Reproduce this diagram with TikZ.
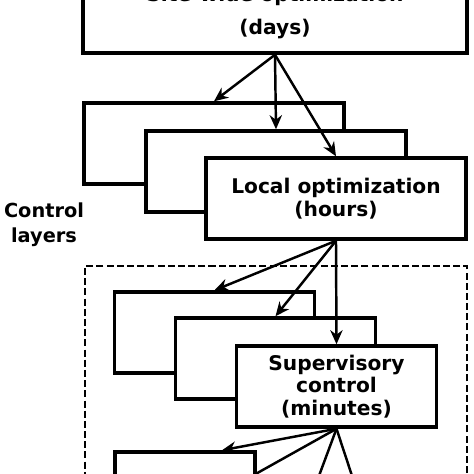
\documentclass[tikz,border=0pt]{standalone}
\usepackage{fontspec}
\setmainfont{DejaVu Sans}
\usetikzlibrary{arrows.meta}

\begin{document}
\begin{tikzpicture}[x=0.02cm,y=-0.02cm,->,>={Stealth[length=8pt,width=7pt]},line width=1.4pt]
    \tikzstyle{block}=[rectangle,draw,fill=white,line width=2pt,minimum width=5.2cm,minimum height=1.62cm,inner sep=0pt,align=center,font=\fontsize{11.5}{13}\selectfont\bfseries]
    \tikzstyle{top block}=[block,minimum width=7.68cm];
    \tikzstyle{mid block}=[block,minimum width=4cm];
    \tikzstyle{low block}=[block,minimum width=2.8cm];
    \tikzstyle{group}=[rectangle,draw,dash pattern=on 4pt off 1.8pt,line width=1.5pt,minimum width=7.64cm,minimum height=5.88cm]
    \tikzstyle{annot}=[align=center,font=\fontsize{11}{14}\selectfont\bfseries]

    \useasboundingbox (0,0) rectangle (474,474);

    % The dashed group round the lower layers
    \node[group] (grp) at (276,413) {};

    % Draw the top layer
    \node[top block] (global) at (275,12.5) {Site-wide optimization\\[6pt](days)};

    % Draw the local optimization layer, back to front
    \node[block] (L-1) at (214,143.5) {};
    \node[block] (L-2) at (276,171.5) {};
    \node[block] (L-3) at (336,198.5) {Local optimization\\(hours)};

    % Draw the supervisory layer, back to front
    \node[mid block] (S-1) at (214.5,332.5) {};
    \node[mid block] (S-2) at (275.5,358.5) {};
    \node[mid block] (S-3) at (336.5,386.5) {Supervisory\\control\\(minutes)};

    % Draw the lowest layer (cut off)
    \node[low block] (R-1) at (185,492.5) {};
    \coordinate (R-2) at (227,490);
    \coordinate (R-3) at (310,500);
    \coordinate (R-4) at (360,500);

    % Connect every layer with the one below it
    \foreach \dest in {1,...,3}
        \path (global.south) edge (L-\dest.north);
    \foreach \dest in {1,...,3}
        \path (L-3.south) edge (S-\dest.north);
    \path (S-3.south) edge ([xshift=0.74cm]R-1.north);
    \foreach \dest in {2,...,4}
        \path (S-3.south) edge (R-\dest);

    % Annotate the layers
    \node[annot] (cl) at (44,225) {Control\\layers};
\end{tikzpicture}
\end{document}
